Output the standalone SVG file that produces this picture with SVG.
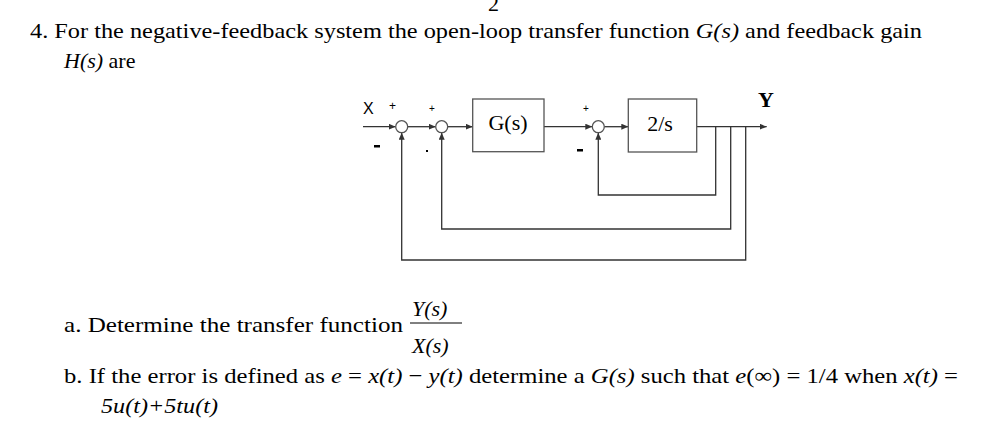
<svg xmlns="http://www.w3.org/2000/svg" width="984" height="436" viewBox="0 0 984 436">
<defs>
<style>
.t{font-family:"Liberation Serif",serif;font-size:22px;fill:#000}
.s{font-family:"Liberation Sans",sans-serif;fill:#000}
.w{fill:none;stroke:#333;stroke-width:1.3}
.b{fill:#fff;stroke:#555;stroke-width:1.3}
</style>
<marker id="a" markerWidth="7" markerHeight="6" refX="7" refY="3" orient="auto" markerUnits="userSpaceOnUse"><path d="M0,0L7,3L0,6z" fill="#333"/></marker>
</defs>
<rect width="984" height="436" fill="#fff"/>
<text class="t" x="488" y="11" font-size="16">2</text>
<text class="t" x="30" y="38" textLength="892" lengthAdjust="spacingAndGlyphs">4.  For the negative-feedback system the open-loop transfer function <tspan font-style="italic">G(s)</tspan> and feedback gain</text>
<text class="t" x="64" y="68"><tspan font-style="italic">H(s)</tspan> are</text>
<g id="connectors">
<path class="w" d="M363,126.7H395.7" marker-end="url(#a)"/>
<path class="w" d="M407.7,126.7H435.7" marker-end="url(#a)"/>
<path class="w" d="M447.7,126.7H472.7" marker-end="url(#a)"/>
<path class="w" d="M544,126.7H592.3" marker-end="url(#a)"/>
<path class="w" d="M604.3,126.7H628.3" marker-end="url(#a)"/>
<path class="w" d="M696.7,126.7H766.7" marker-end="url(#a)"/>
<path class="w" d="M715.7,126.7V195H598.3V132.7" marker-end="url(#a)"/>
<path class="w" d="M730.7,126.7V229H441.7V132.7" marker-end="url(#a)"/>
<path class="w" d="M745.7,126.7V260H401.7V132.7" marker-end="url(#a)"/>
</g>
<g id="sum1"><circle class="b" cx="401.7" cy="126.7" r="6"/></g>
<g id="sum2"><circle class="b" cx="441.7" cy="126.7" r="6"/></g>
<g id="sum3"><circle class="b" cx="598.3" cy="126.7" r="6"/></g>
<g id="G"><rect class="b" x="472.7" y="99" width="71.3" height="52.7"/><text class="t" x="508" y="130" font-size="10" text-anchor="middle">G(s)</text></g>
<g id="I"><rect class="b" x="628.3" y="99" width="68.4" height="53"/><text class="t" x="660" y="131" font-size="15" text-anchor="middle">2/s</text></g>
<g id="labels">
<text class="s" x="363" y="114" font-size="16">X</text>
<text class="s" x="389" y="110" font-size="12">+</text>
<text class="s" x="429" y="112" font-size="10">+</text>
<text class="s" x="583" y="112" font-size="10">+</text>
<rect x="374" y="145" width="6" height="2.5" fill="#000"/>
<rect x="426" y="150" width="2" height="2" fill="#000"/>
<rect x="577" y="149" width="6" height="2.5" fill="#000"/>
<text class="t" x="758" y="107" font-size="11" font-weight="bold">Y</text>
</g>
<text class="t" x="64" y="332" textLength="339" lengthAdjust="spacingAndGlyphs">a.   Determine the transfer function</text>
<text class="t" x="412" y="316" font-style="italic">Y(s)</text>
<line x1="410" y1="323" x2="462" y2="323" stroke="#000" stroke-width="1"/>
<text class="t" x="412" y="353" font-style="italic">X(s)</text>
<text class="t" x="64" y="383" textLength="894" lengthAdjust="spacingAndGlyphs">b.   If the error is defined as <tspan font-style="italic">e</tspan> = <tspan font-style="italic">x(t)</tspan> − <tspan font-style="italic">y(t)</tspan> determine a <tspan font-style="italic">G(s)</tspan> such that <tspan font-style="italic">e</tspan>(∞) = 1/4 when <tspan font-style="italic">x(t)</tspan> =</text>
<text class="t" x="101" y="413" font-style="italic" textLength="117" lengthAdjust="spacingAndGlyphs">5u(t)+5tu(t)</text>
</svg>
